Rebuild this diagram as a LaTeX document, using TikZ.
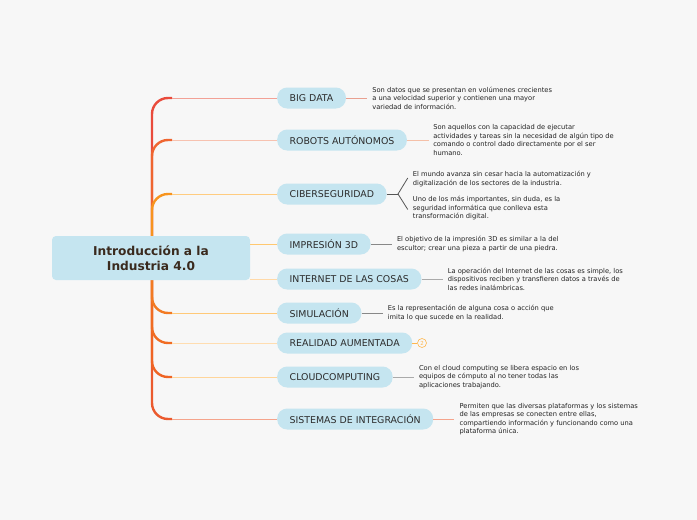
\documentclass[tikz,border=0pt]{standalone}
\usepackage{fontspec}
\setmainfont{DejaVu Sans}
\usetikzlibrary{positioning}
\definecolor{bg}{HTML}{F7F7F7}
\definecolor{pill}{HTML}{C5E5F0}
\definecolor{introtext}{HTML}{3A2A1E}
\definecolor{topictext}{HTML}{2B2B2B}
\definecolor{notetext}{HTML}{222222}
\definecolor{trunkred}{HTML}{E94B3C}
\definecolor{trunkredor}{HTML}{EF6530}
\definecolor{trunkor}{HTML}{F7941E}
\definecolor{trunklow}{HTML}{EB5A2E}
\definecolor{trunklowb}{HTML}{EF6424}
\definecolor{trunklowc}{HTML}{F06C22}
\definecolor{trunklowd}{HTML}{F27A22}
\definecolor{twigbigdata}{HTML}{F2A196}
\definecolor{twigrobots}{HTML}{F7C2B0}
\definecolor{twigciber}{HTML}{FFCC80}
\definecolor{twigimpresion}{HTML}{FFC870}
\definecolor{twiginternet}{HTML}{FFD9A8}
\definecolor{twigsimulacion}{HTML}{FFC978}
\definecolor{twigrealidad}{HTML}{FFDDB0}
\definecolor{twigcloud}{HTML}{FFD59A}
\definecolor{twigsistemas}{HTML}{F5A48C}
\definecolor{leafdark}{HTML}{555555}
\definecolor{leafmid}{HTML}{888888}
\definecolor{leaflight}{HTML}{AAAAAA}
\definecolor{leafbigdata}{HTML}{E9A090}
\definecolor{leafrobots}{HTML}{F5C0A8}
\definecolor{countor}{HTML}{FFB74D}
\begin{document}
\begin{tikzpicture}[x=1pt,y=-1pt,
    topic/.style={fill=pill, rounded corners=10pt, minimum height=21pt, inner xsep=12.5pt, inner ysep=0pt,
      anchor=west, text=topictext, font=\fontsize{9.4}{10}\selectfont},
    note/.style={right=26pt of #1, anchor=west, align=left, inner sep=0pt, text=notetext,
      font=\fontsize{6.7}{8.5}\selectfont},
    trunk/.style={line width=2.4pt, rounded corners=16pt},
    twig/.style={line width=1pt},
    leaf/.style={line width=0.8pt}]
    \fill[bg] (0,0) rectangle (697,520);
    \coordinate (B) at (172,0);
    % topics
    \node[topic] (bigdata) at (277,98) {BIG DATA};
    \node[topic] (robots) at (277,140) {ROBOTS AUTÓNOMOS};
    \node[topic] (ciber) at (277,194) {CIBERSEGURIDAD};
    \node[topic] (impresion) at (277,244) {IMPRESIÓN 3D};
    \node[topic] (internet) at (277,279) {INTERNET DE LAS COSAS};
    \node[topic] (simulacion) at (277,313) {SIMULACIÓN};
    \node[topic] (realidad) at (277,343) {REALIDAD AUMENTADA};
    \node[topic] (cloud) at (277,377) {CLOUDCOMPUTING};
    \node[topic] (sistemas) at (277,419) {SISTEMAS DE INTEGRACIÓN};
    % trunk and branches
    \coordinate (CN) at (152,236);
    \coordinate (CS) at (152,280);
    \draw[trunk,trunkred] (CN) |- (B |- bigdata.west);
    \draw[twig,twigbigdata] (B |- bigdata.west) -- (bigdata.west);
    \draw[trunk,trunkredor] (CN) |- (B |- robots.west);
    \draw[twig,twigrobots] (B |- robots.west) -- (robots.west);
    \draw[trunk,trunkor] (CN) |- (B |- ciber.west);
    \draw[twig,twigciber] (B |- ciber.west) -- (ciber.west);
    \draw[trunk,trunklow] (CS) |- (B |- sistemas.west);
    \draw[twig,twigsistemas] (B |- sistemas.west) -- (sistemas.west);
    \draw[trunk,trunklowb] (CS) |- (B |- cloud.west);
    \draw[twig,twigcloud] (B |- cloud.west) -- (cloud.west);
    \draw[trunk,trunklowc] (CS) |- (B |- realidad.west);
    \draw[twig,twigrealidad] (B |- realidad.west) -- (realidad.west);
    \draw[trunk,trunklowd] (CS) |- (B |- simulacion.west);
    \draw[twig,twigsimulacion] (B |- simulacion.west) -- (simulacion.west);
    \node[fill=pill, rounded corners=4pt, minimum width=198pt, minimum height=44pt, align=center,
      text=introtext, font=\fontsize{12.2}{15}\selectfont\bfseries] (intro) at (151,258)
      {Introducción a la\\Industria 4.0};
    \draw[twig,twigimpresion] (intro.east |- impresion.west) -- (impresion.west);
    \draw[twig,twiginternet] (intro.east |- internet.west) -- (internet.west);
    % notes
    \node[note=bigdata] (bigdatanote) {Son datos que se presentan en volúmenes crecientes\\a una velocidad superior y contienen una mayor\\variedad de información.};
    \node[note=robots] (robotsnote) {Son aquellos con la capacidad de ejecutar\\actividades y tareas sin la necesidad de algún tipo de\\comando o control dado directamente por el ser\\humano.};
    \node[note=ciber, yshift=15pt] (cibernotea) {El mundo avanza sin cesar hacia la automatización y\\digitalización de los sectores de la industria.};
    \node[note=ciber, yshift=-14.5pt] (cibernoteb) {Uno de los más importantes, sin duda, es la\\seguridad informática que conlleva esta\\transformación digital.};
    \node[note=impresion] (impresionnote) {El objetivo de la impresión 3D es similar a la del\\escultor; crear una pieza a partir de una piedra.};
    \node[note=internet] (internetnote) {La operación del Internet de las cosas es simple, los\\dispositivos reciben y transfieren datos a través de\\las redes inalámbricas.};
    \node[note=simulacion] (simulacionnote) {Es la representación de alguna cosa o acción que\\imita lo que sucede en la realidad.};
    \node[note=cloud] (cloudnote) {Con el cloud computing se libera espacio en los\\equipos de cómputo al no tener todas las\\aplicaciones trabajando.};
    \node[note=sistemas] (sistemasnote) {Permiten que las diversas plataformas y los sistemas\\de las empresas se conecten entre ellas,\\compartiendo información y funcionando como una\\plataforma única.};
    \node[circle, draw=countor, line width=0.6pt, inner sep=0pt, minimum size=9pt,
      text=countor, font=\fontsize{5.5}{6}\selectfont] (realidadcount) at (422,343) {2};
    % note connectors
    \coordinate (fork) at (398,194);
    \draw[leaf,leafbigdata] (bigdata.east) -- ([xshift=-5pt]bigdatanote.west);
    \draw[leaf,leafrobots] (robots.east) -- ([xshift=-4pt]robotsnote.west);
    \draw[leaf,leafdark] (ciber.east) -- (fork);
    \draw[leaf,leafdark] (fork) -- ([xshift=-5pt,yshift=1pt]cibernotea.west);
    \draw[leaf,leafdark] (fork) -- ([xshift=-5pt,yshift=-1pt]cibernoteb.west);
    \draw[leaf,leafmid] (impresion.east) -- ([xshift=-5pt]impresionnote.west);
    \draw[leaf,leaflight] (internet.east) -- ([xshift=-5pt]internetnote.west);
    \draw[leaf,leafmid] (simulacion.east) -- ([xshift=-5pt]simulacionnote.west);
    \draw[leaf,countor] (realidad.east) -- (realidadcount.west);
    \draw[leaf,leaflight] (cloud.east) -- ([xshift=-5pt]cloudnote.west);
    \draw[leaf,twigsistemas] (sistemas.east) -- ([xshift=-5pt]sistemasnote.west);
\end{tikzpicture}
\end{document}
